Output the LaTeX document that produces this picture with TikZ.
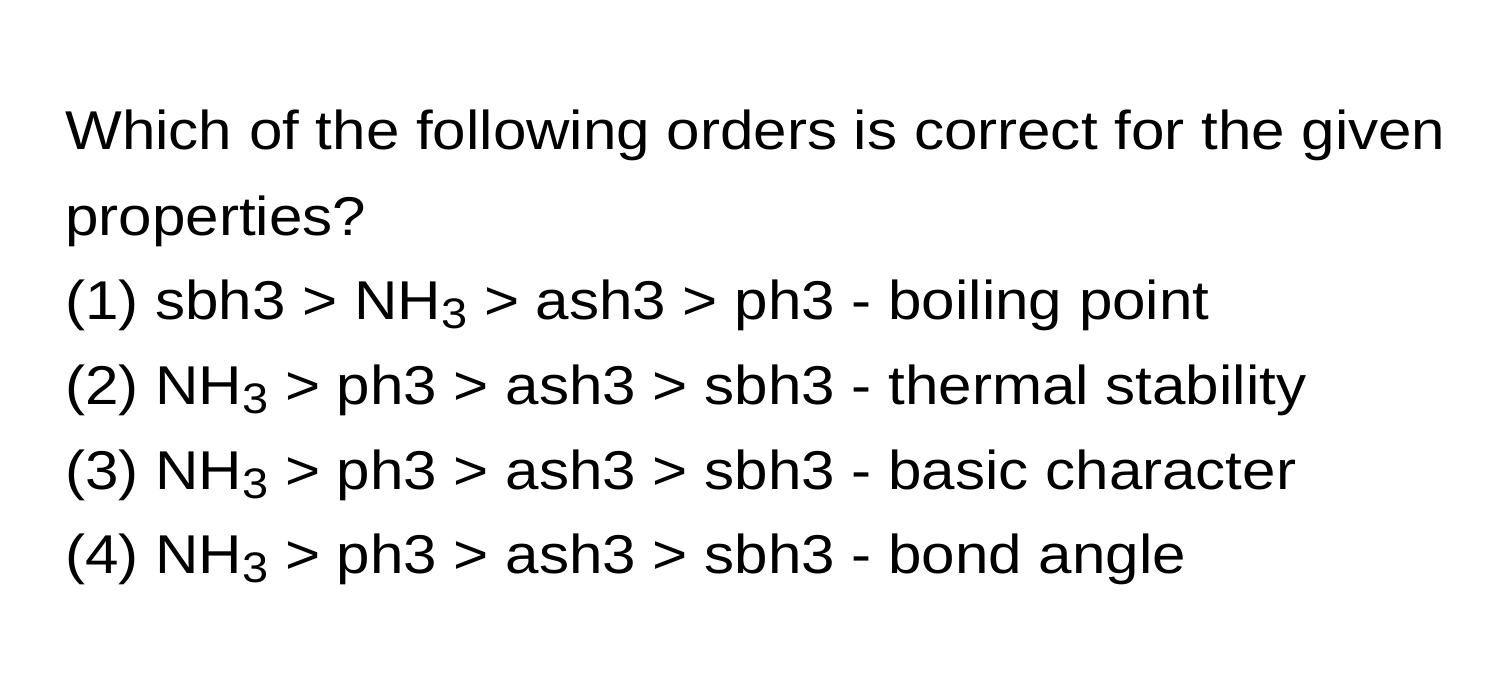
\documentclass[tikz,border=0pt]{standalone}
\usepackage{fontspec}
\setmainfont{Liberation Sans}
\newcommand{\subthree}{\raisebox{-0.18em}{\fontsize{32}{32}\selectfont 3}}
\tikzset{qline/.style={anchor=base west,inner sep=0pt,xscale=1.1,font=\fontsize{41}{41}\selectfont}}
\begin{document}
\begin{tikzpicture}[x=0.75pt,y=0.75pt,yscale=-1]
\useasboundingbox (0,0) rectangle (1500,688);
% question text
\node[qline] (q1) at (65,150) {Which of the following orders is correct for the given};
\node[qline] (q2) at (65,235) {properties?};
% options
\node[qline] (o1) at (65,319) {(1) sbh3 > NH\subthree{} > ash3 > ph3 - boiling point};
\node[qline] (o2) at (65,404) {(2) NH\subthree{} > ph3 > ash3 > sbh3 - thermal stability};
\node[qline] (o3) at (65,489) {(3) NH\subthree{} > ph3 > ash3 > sbh3 - basic character};
\node[qline] (o4) at (65,573) {(4) NH\subthree{} > ph3 > ash3 > sbh3 - bond angle};
\end{tikzpicture}
\end{document}
